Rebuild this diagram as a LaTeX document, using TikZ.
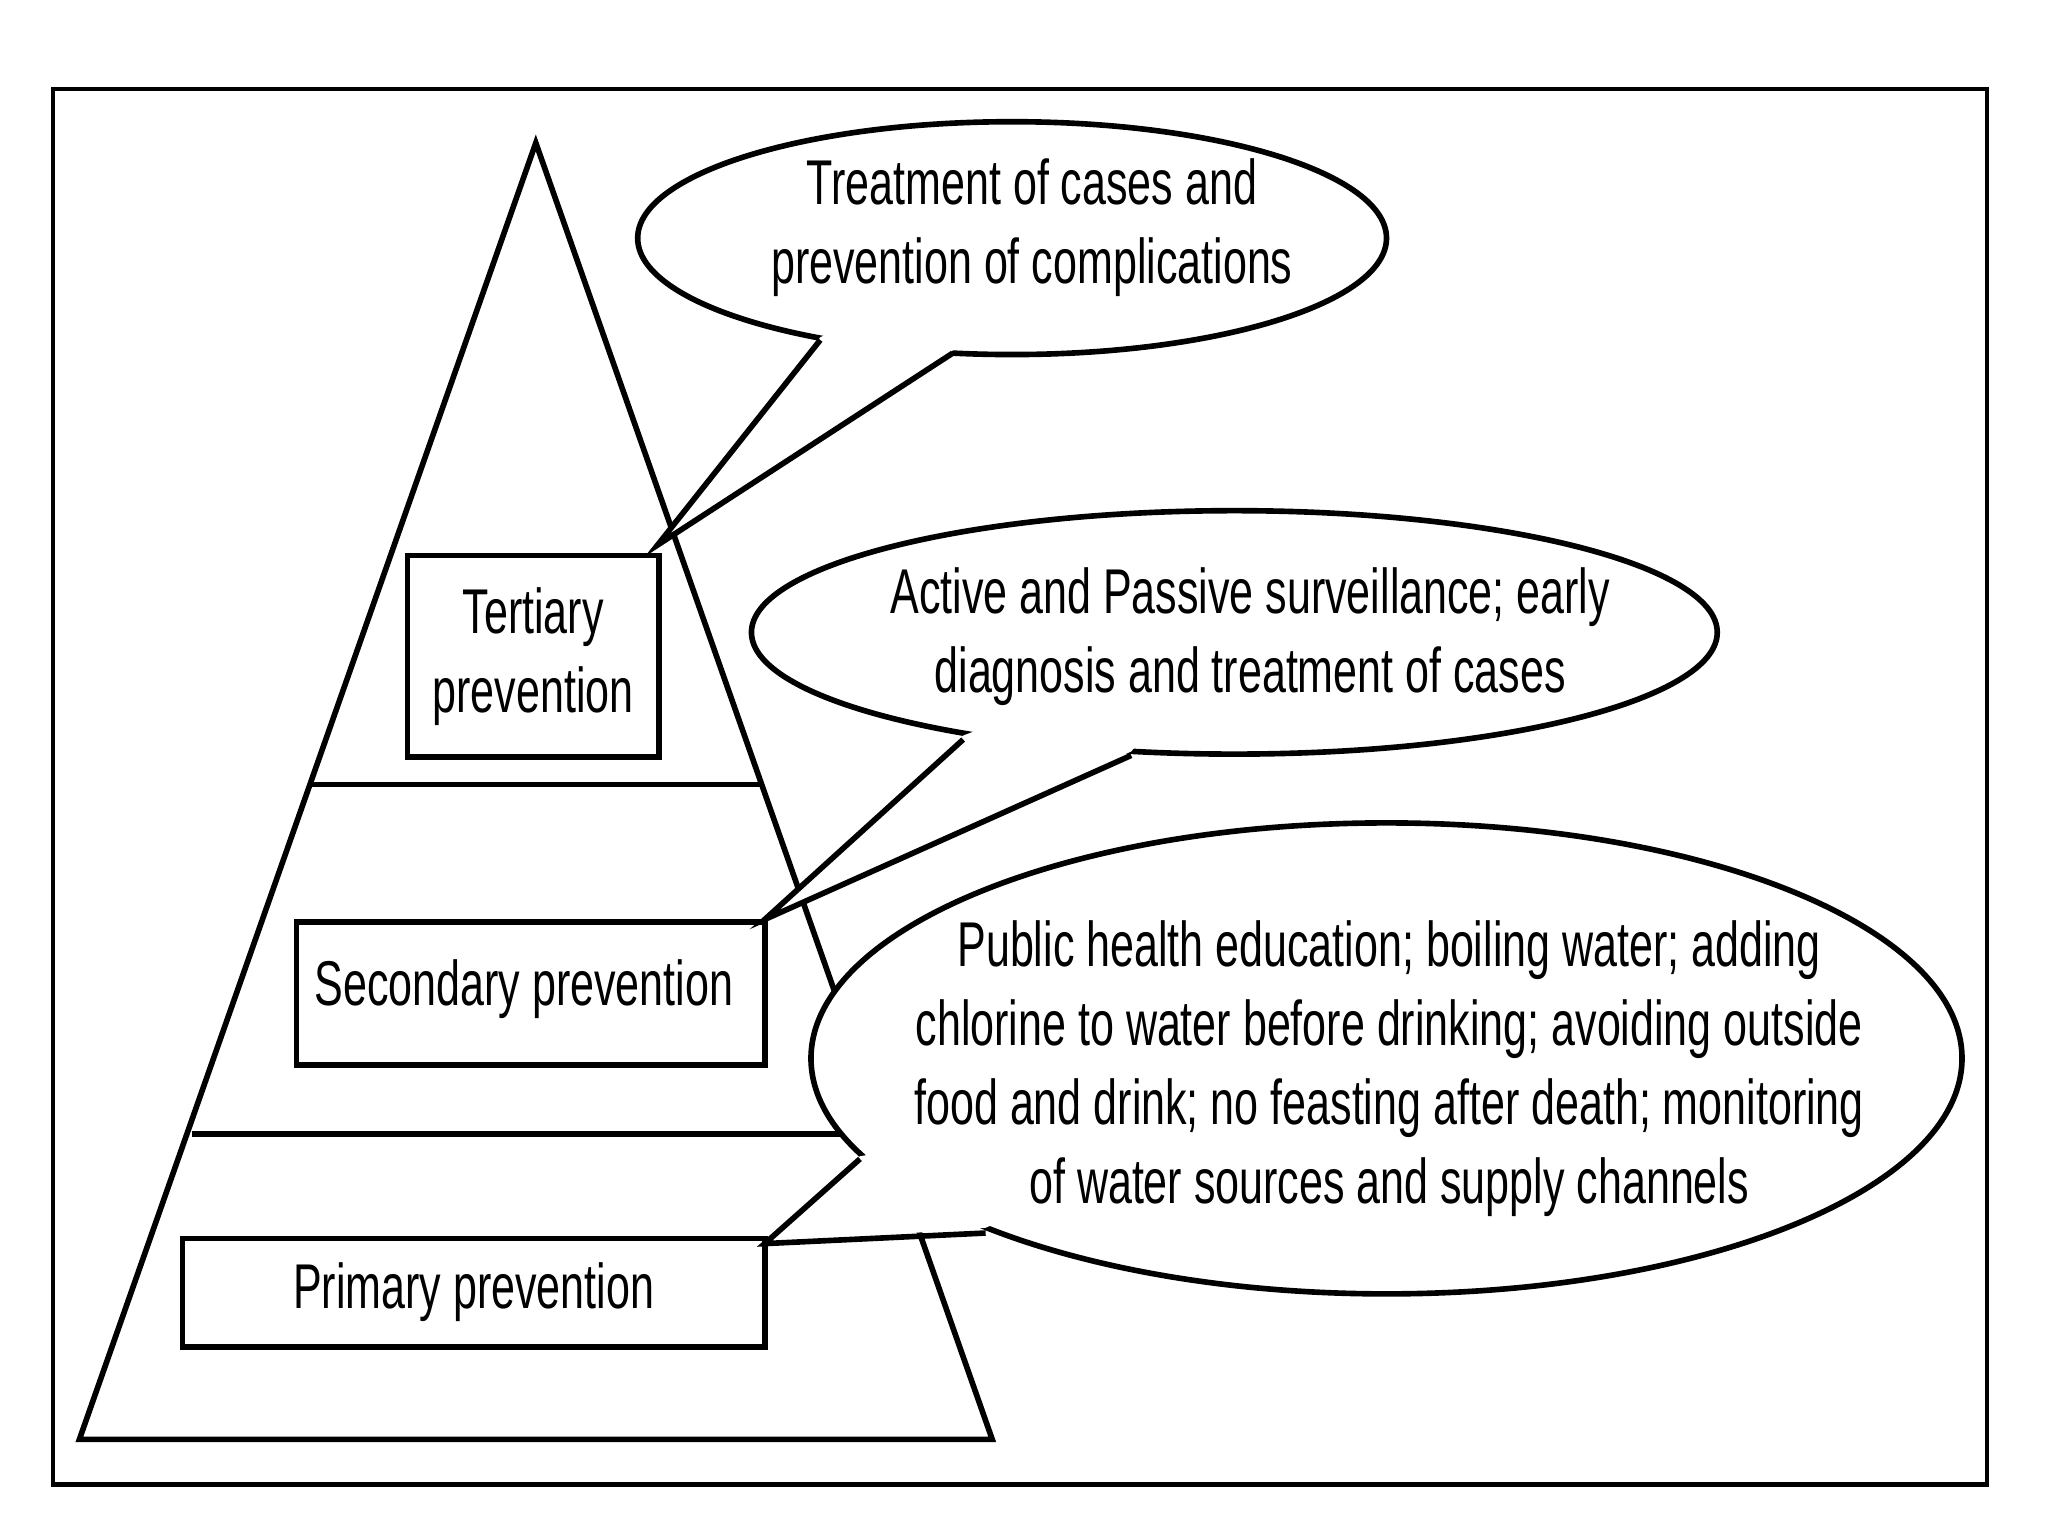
\documentclass[tikz,border=0pt]{standalone}
\usepackage{fontspec}
\setmainfont[FakeStretch=0.68]{Liberation Sans}
\begin{document}
\begin{tikzpicture}[x=0.01323cm,y=-0.01323cm,line width=1.6pt,
  lab/.style={align=center,font=\fontsize{18}{22.5}\selectfont,inner sep=0pt},
  bx/.style={draw,line width=1.6pt}]
\useasboundingbox (0,0) rectangle (1548,1161);
\draw[line width=1.2pt] (40,67) rectangle (1502,1122);
% pyramid
\draw (405,108) -- (60,1088) -- (750,1088) -- cycle;
\draw (233,593) -- (576,593);
\draw (145,857) -- (668,857);
% boxes
\draw[bx,fill=white] (308,420) rectangle (498,572);
\node[lab] (t) at (403,496) {Tertiary\\prevention};
\draw[bx,fill=white] (224,697) rectangle (578,805);
\node[lab] (s) at (396,748) {Secondary prevention};
\draw[bx,fill=white] (138,936) rectangle (578,1018);
\node[lab] (p) at (358,977) {Primary prevention};
% callouts
\coordinate (t1) at (497,412);
\coordinate (t2) at (578,695);
\coordinate (t3) at (578,940);
\draw[fill=white] (765,180) ellipse [x radius=283,y radius=88];
\fill[white] (t1) -- (620,255) -- (765,180) -- (720,265) -- cycle;
\draw (620,257) -- (t1) -- (720,267);
\node[lab] (c1) at (780,172) {Treatment of cases and\\prevention of complications};
\draw[fill=white] (933,478) ellipse [x radius=365,y radius=92];
\fill[white] (t2) -- (728,556) -- (933,478) -- (855,568) -- cycle;
\draw (728,559) -- (t2) -- (855,571);
\node[lab] (c2) at (945,481) {Active and Passive surveillance; early\\diagnosis and treatment of cases};
\draw[fill=white] (1048,800) ellipse [x radius=435,y radius=178];
\fill[white] (t3) -- (650,874) -- (1048,800) -- (745,928) -- cycle;
\draw (650,876) -- (t3) -- (745,932);
\node[lab] (c3) at (1050,808) {Public health education; boiling water; adding\\chlorine to water before drinking; avoiding outside\\food and drink; no feasting after death; monitoring\\of water sources and supply channels};
\end{tikzpicture}
\end{document}
